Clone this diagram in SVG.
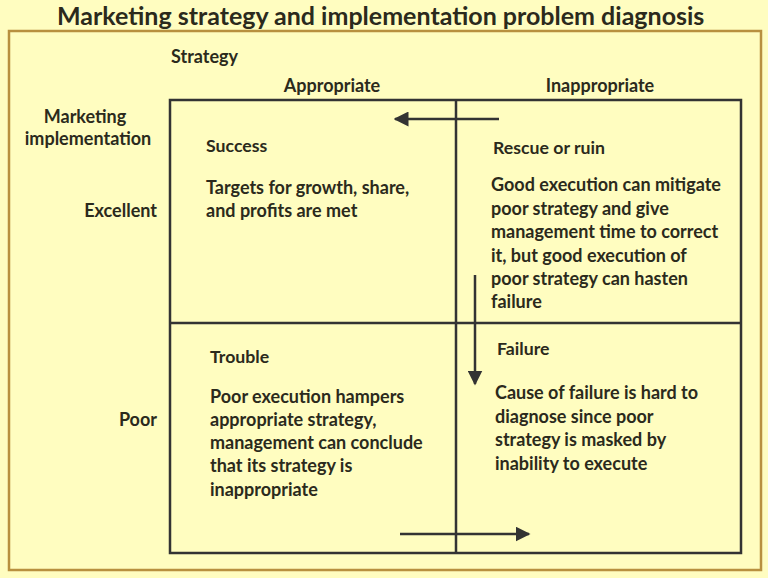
<svg xmlns="http://www.w3.org/2000/svg" width="768" height="578" viewBox="0 0 768 578">
<defs>
<style>
text{font-family:Lato,"Liberation Sans",sans-serif;font-weight:bold;fill:#2b2a1c}
.t{font-size:25px}
.l{font-size:18px}
.h{font-size:17.7px}
.b{font-size:18px}
.grid{fill:none;stroke:#333333;stroke-width:2.5}
.c{fill:none;stroke:#333333;stroke-width:2.5}
</style>
<marker id="ah" viewBox="0 0 10 10" refX="9" refY="5" markerWidth="6" markerHeight="6" markerUnits="strokeWidth" orient="auto">
<path d="M0,0 L10,5 L0,10 z" fill="#333333"/>
</marker>
</defs>
<rect x="0" y="0" width="768" height="578" fill="#FFFDC0"/>
<text class="t" x="57" y="25">Marketing strategy and implementation problem diagnosis</text>
<rect x="9" y="31" width="752" height="539" fill="none" stroke="#B8903F" stroke-width="2.5"/>
<g id="axis-labels">
<text class="l" x="171" y="63">Strategy</text>
<text class="l" x="332" y="92" text-anchor="middle">Appropriate</text>
<text class="l" x="600" y="92" text-anchor="middle">Inappropriate</text>
<text class="l" x="85" y="123" text-anchor="middle">Marketing</text>
<text class="l" x="88" y="145" text-anchor="middle">implementation</text>
<text class="l" x="157" y="217" text-anchor="end">Excellent</text>
<text class="l" x="157" y="426" text-anchor="end">Poor</text>
</g>
<g id="grid">
<rect class="grid" x="170" y="100" width="571" height="453"/>
<line class="grid" x1="456" y1="100" x2="456" y2="553"/>
<line class="grid" x1="170" y1="323" x2="741" y2="323"/>
</g>
<g id="success">
<text class="h" x="206" y="152">Success</text>
<text class="b" x="206" y="194">Targets for growth, share,</text>
<text class="b" x="206" y="217">and profits are met</text>
</g>
<g id="rescue">
<text class="h" x="493" y="154">Rescue or ruin</text>
<text class="b" x="491" y="191">Good execution can mitigate</text>
<text class="b" x="491" y="215">poor strategy and give</text>
<text class="b" x="491" y="238">management time to correct</text>
<text class="b" x="491" y="262">it, but good execution of</text>
<text class="b" x="491" y="285">poor strategy can hasten</text>
<text class="b" x="491" y="308">failure</text>
</g>
<g id="trouble">
<text class="h" x="210" y="363">Trouble</text>
<text class="b" x="210" y="403">Poor execution hampers</text>
<text class="b" x="210" y="426">appropriate strategy,</text>
<text class="b" x="210" y="449">management can conclude</text>
<text class="b" x="210" y="472">that its strategy is</text>
<text class="b" x="210" y="496">inappropriate</text>
</g>
<g id="failure">
<text class="h" x="497" y="355">Failure</text>
<text class="b" x="495" y="399">Cause of failure is hard to</text>
<text class="b" x="495" y="423">diagnose since poor</text>
<text class="b" x="495" y="446">strategy is masked by</text>
<text class="b" x="495" y="470">inability to execute</text>
</g>
<g id="connectors">
<line class="c" x1="499" y1="119" x2="395" y2="119" marker-end="url(#ah)"/>
<line class="c" x1="475" y1="275" x2="475" y2="384" marker-end="url(#ah)"/>
<line class="c" x1="400" y1="534" x2="529" y2="534" marker-end="url(#ah)"/>
</g>
</svg>
